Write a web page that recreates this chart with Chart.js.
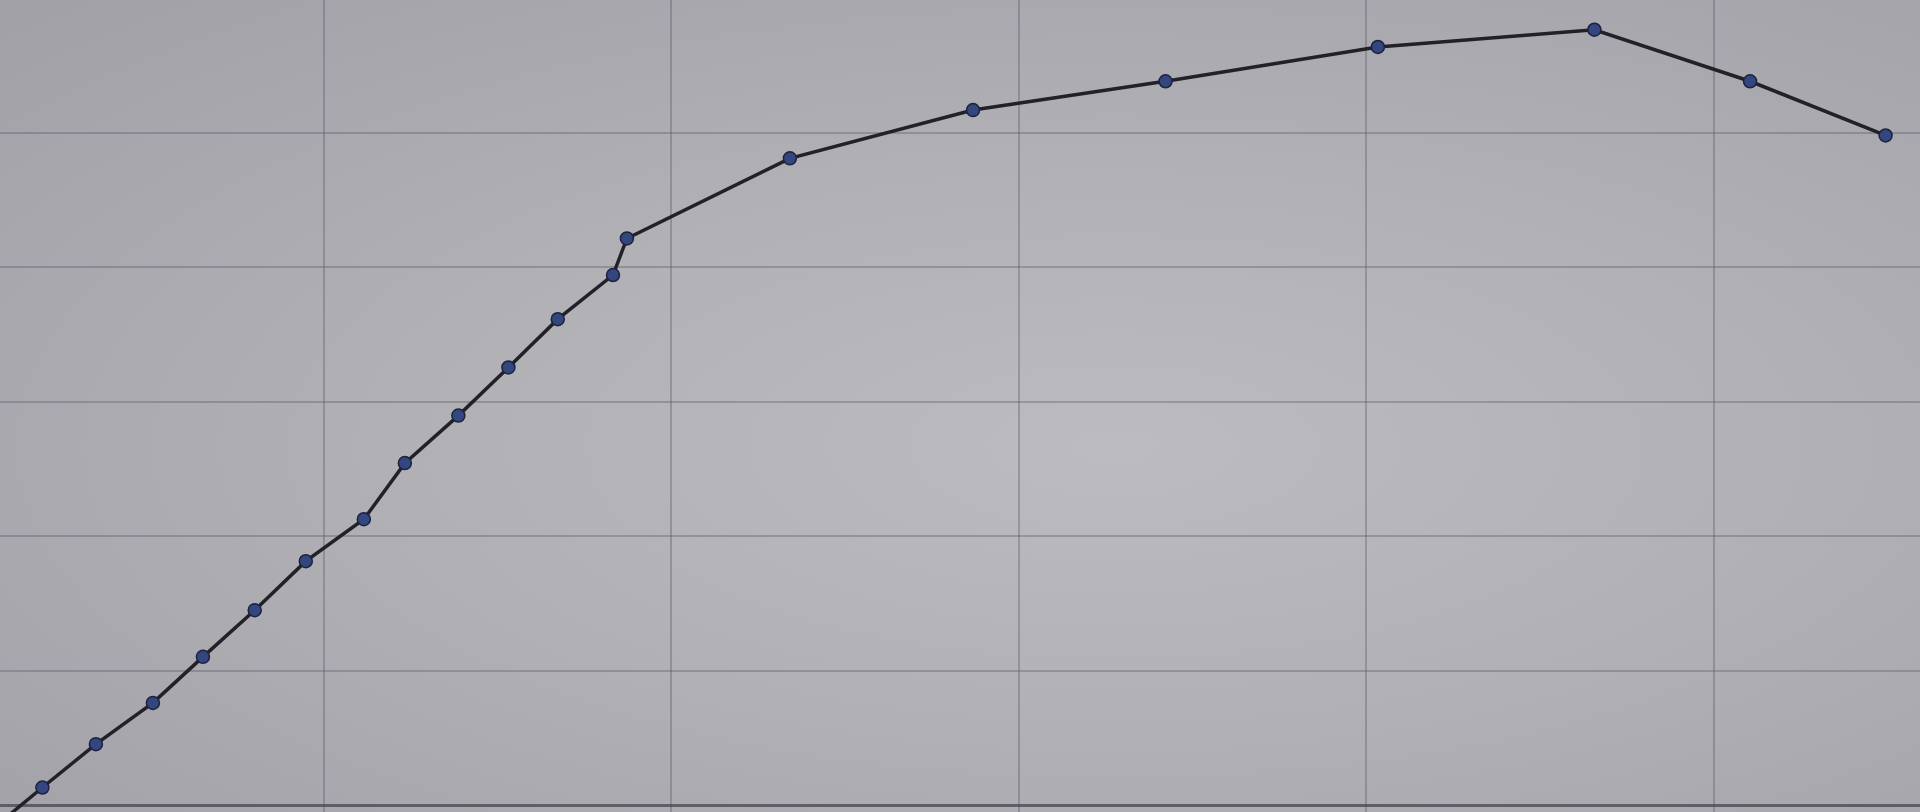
<!DOCTYPE html>
<html>
<head>
<meta charset="utf-8">
<title>Line chart</title>
<script src="https://cdn.jsdelivr.net/npm/chart.js@4.4.1/dist/chart.umd.min.js"></script>
<style>
  html, body { margin: 0; padding: 0; }
  body {
    width: 1920px; height: 812px; overflow: hidden;
    background: radial-gradient(ellipse at 58% 55%, #bcbcc0 0%, #b0b0b5 45%, #a1a0a7 100%);
  }
  .wrap { position: relative; width: 1920px; height: 812px; }
</style>
</head>
<body>
<div class="wrap"><canvas id="lineChart"></canvas></div>
<script>
  // x / y values (grid every 10 units)
  const xValues = [0.45, 1.90, 3.44, 5.08, 6.52, 8.01, 9.48, 11.15, 12.33, 13.87, 15.31,
    16.73, 18.32, 18.72, 23.41, 28.68, 34.22, 40.33, 46.56, 51.04, 54.94];
  const yValues = [-1.78, 1.32, 4.54, 7.61, 11.03, 14.50, 18.14, 21.26, 25.43, 28.96, 32.54,
    36.13, 39.41, 42.13, 48.08, 51.67, 53.81, 56.36, 57.64, 53.81, 49.78];
  const xTicks = [10, 20, 30, 40, 50];
  const yTicks = [0, 10, 20, 30, 40, 50];
  const xRange = [0.68, 55.93];
  const yRange = [-0.5, 59.85];

  const colors = {
    line: '#222128',
    point: '#34467e',
    pointBorder: '#1c2240',
    grid: 'rgba(92, 92, 104, 0.38)',
    zeroLine: 'rgba(62, 62, 72, 0.7)'
  };

  const points = xValues.map(function (x, i) { return { x: x, y: yValues[i] }; });

  function fixedTicks(values) {
    return function (axis) {
      axis.ticks = values.map(function (v) { return { value: v }; });
    };
  }

  new Chart(document.getElementById('lineChart'), {
    type: 'line',
    data: {
      datasets: [{
        label: 'Series',
        data: points,
        borderColor: colors.line,
        borderWidth: 3.5,
        tension: 0,
        pointRadius: 6.5,
        pointBackgroundColor: colors.point,
        pointBorderColor: colors.pointBorder,
        pointBorderWidth: 1.5
      }]
    },
    options: {
      responsive: true,
      maintainAspectRatio: false,
      animation: false,
      layout: { padding: 0, autoPadding: false },
      plugins: { legend: { display: false }, tooltip: { enabled: false } },
      scales: {
        x: {
          type: 'linear',
          min: xRange[0],
          max: xRange[1],
          afterBuildTicks: fixedTicks(xTicks),
          border: { display: false },
          grid: { drawTicks: false, lineWidth: 2, color: colors.grid },
          ticks: { display: false }
        },
        y: {
          type: 'linear',
          min: yRange[0],
          max: yRange[1],
          afterBuildTicks: fixedTicks(yTicks),
          border: { display: false },
          grid: {
            drawTicks: false,
            color: function (ctx) { return ctx.tick && ctx.tick.value === 0 ? colors.zeroLine : colors.grid; },
            lineWidth: function (ctx) { return ctx.tick && ctx.tick.value === 0 ? 3 : 2; }
          },
          ticks: { display: false }
        }
      }
    }
  });
</script>
</body>
</html>
